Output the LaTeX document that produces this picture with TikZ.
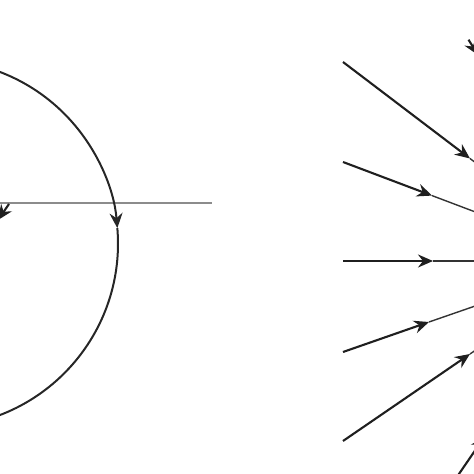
\documentclass[tikz,border=0pt]{standalone}
\usetikzlibrary{arrows.meta}
\begin{document}
\begin{tikzpicture}[x=1pt,y=1pt,
        ray/.style={line width=2.1pt,black!88,-{Stealth[length=15pt,width=13pt,inset=5pt]}},
        raytail/.style={line width=1.4pt,black!80},
        orbit/.style={line width=2pt,black!85},
        axisline/.style={line width=2pt,black!45}]
        \useasboundingbox (0,0) rectangle (474,474);
        \clip (0,0) rectangle (474,474);

        \coordinate (C) at (-65.6,230.5);
        \draw[axisline] (-5,270.5) coordinate (L0) -- (212,270.5) coordinate (L1);
        \draw[orbit,-{Stealth[length=15pt,width=13pt,inset=5pt]}] ([shift={(130:183.6)}]C) arc[start angle=130,end angle=4.8,radius=183.6] coordinate (A);
        \draw[orbit] (A) arc[start angle=4.8,end angle=-130,radius=183.6];
        \coordinate (B0) at (9,270);
        \coordinate (B1) at (-2,254);
        \draw[ray] (B0) -- (B1);

        \coordinate (F) at (605,213);
        \coordinate (S1) at (343,412);
        \coordinate (M1) at (470,315.5);
        \coordinate (S2) at (343,312);
        \coordinate (M2) at (432,278.4);
        \coordinate (S3) at (343,213);
        \coordinate (M3) at (433,213);
        \coordinate (S4) at (343,122);
        \coordinate (M4) at (429,152);
        \coordinate (S5) at (343,33);
        \coordinate (M5) at (470,120);
        \coordinate (S6) at (343,-169);
        \coordinate (M6) at (485,38);
        \coordinate (S7) at (468.5,434.3);
        \coordinate (M7) at (478,419);

        \draw[ray] (S1) -- (M1);
        \draw[raytail] (M1) -- (F);
        \draw[ray] (S2) -- (M2);
        \draw[raytail] (M2) -- (F);
        \draw[ray] (S3) -- (M3);
        \draw[raytail] (M3) -- (F);
        \draw[ray] (S4) -- (M4);
        \draw[raytail] (M4) -- (F);
        \draw[ray] (S5) -- (M5);
        \draw[raytail] (M5) -- (F);
        \draw[ray] (S6) -- (M6);
        \draw[raytail] (M6) -- (F);
        \draw[ray] (S7) -- (M7);
        \draw[raytail] (M7) -- (F);

    \end{tikzpicture}
\end{document}
